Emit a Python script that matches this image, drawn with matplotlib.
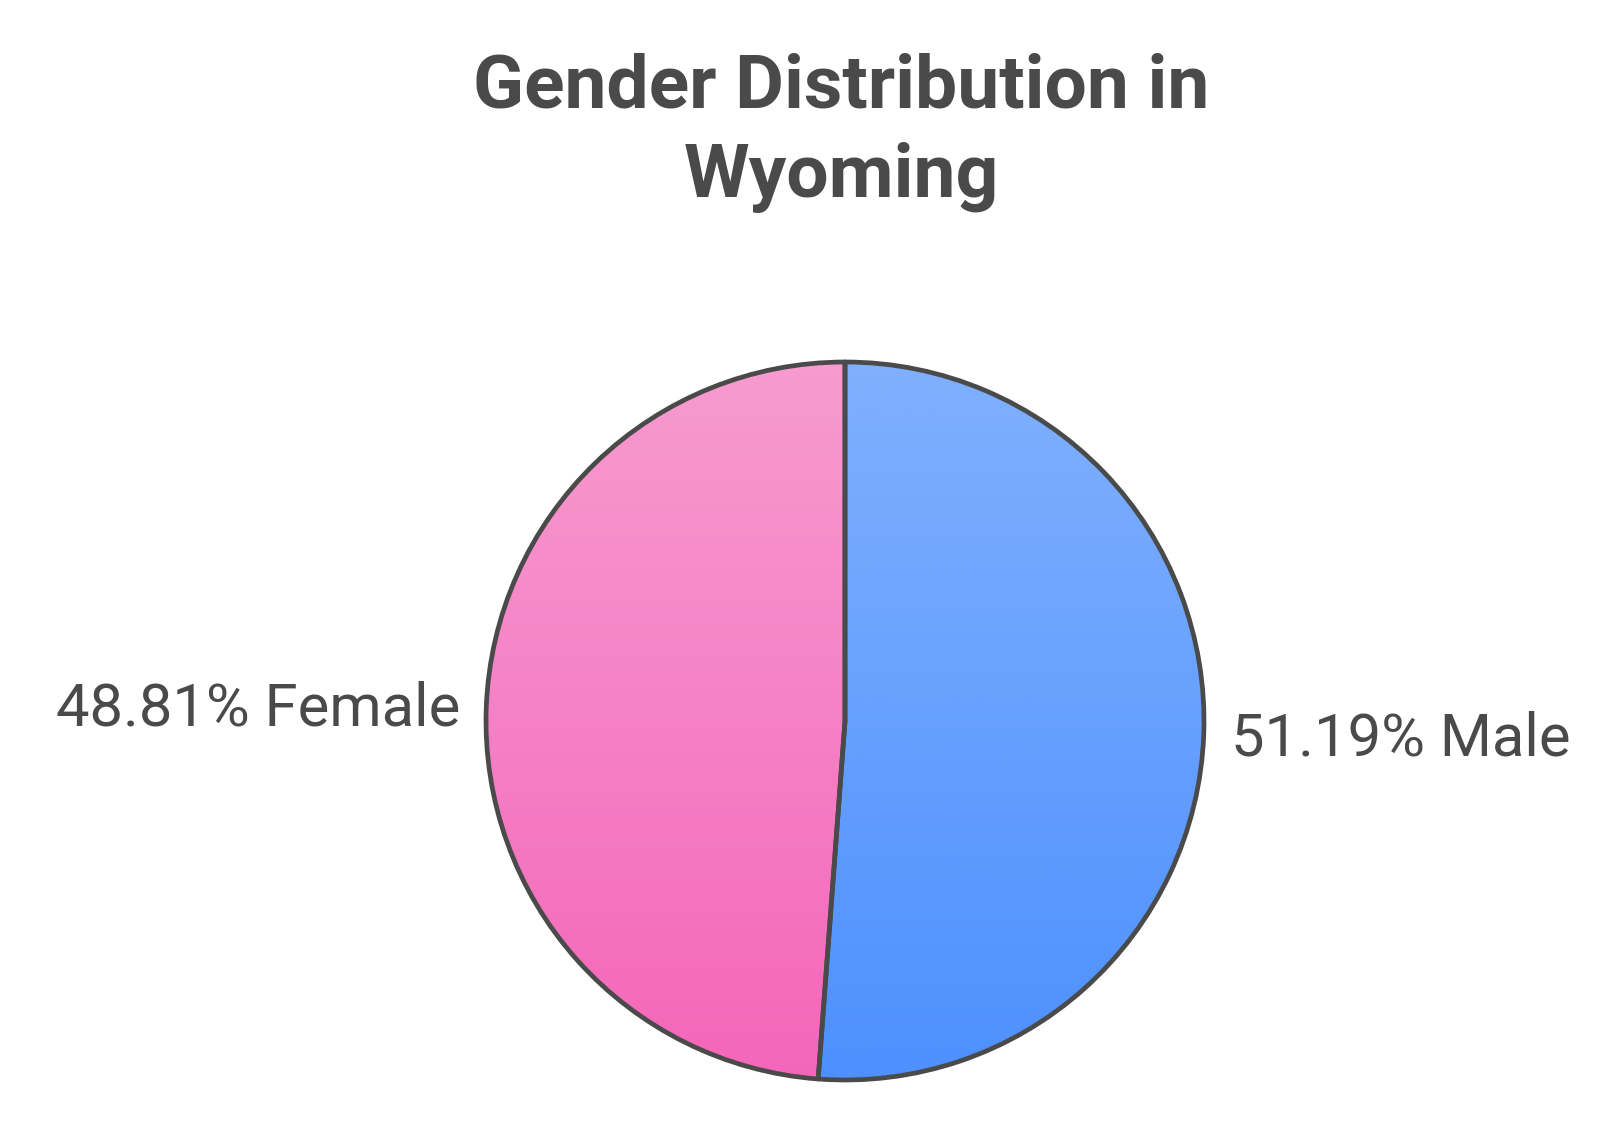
import numpy as np
import matplotlib
matplotlib.use("Agg")
import matplotlib.pyplot as plt
from matplotlib.colors import LinearSegmentedColormap

title_lines = ["Gender Distribution in", "Wyoming"]
categories = ["Male", "Female"]
values = [51.19, 48.81]
top_colors = ["#80B0FE", "#F79BD0"]
bottom_colors = ["#4D90FE", "#F466BA"]
edge_color = "#4A4A4A"
text_color = "#4A4A4A"

W, H = 1620, 1128
fig = plt.figure(figsize=(W / 100, H / 100), dpi=100)
fig.patch.set_facecolor("white")

cx, cy, r = 845, 721, 359
ax = fig.add_axes([(cx - r) / W, (H - cy - r) / H, 2 * r / W, 2 * r / H])
ax.axis("off")

wedges, _ = ax.pie(values, startangle=90, counterclock=False, radius=1,
                   colors=["none", "none"],
                   wedgeprops=dict(edgecolor="none", linewidth=0))

grad = np.linspace(0, 1, 256).reshape(-1, 1)
for w, tc, bc in zip(wedges, top_colors, bottom_colors):
    cmap = LinearSegmentedColormap.from_list("g", [tc, bc])
    im = ax.imshow(grad, extent=[-1, 1, -1, 1], origin="upper", cmap=cmap,
                   aspect="auto", zorder=1)
    im.set_clip_path(w)

ax.set_xlim(-1.0, 1.0)
ax.set_ylim(-1.0, 1.0)

for w in wedges:
    w.set_zorder(2)
    w.set_edgecolor(edge_color)
    w.set_linewidth(3.4)
    w.set_joinstyle("round")
    w.set_clip_on(False)

# labels
label_pos = {"Male": (1.075, -0.095, "left"), "Female": (-1.070, -0.012, "right")}
for cat, v in zip(categories, values):
    x, y, ha = label_pos[cat]
    ax.text(x, y, f"{v:.2f}% {cat}", ha=ha, va="baseline", fontsize=43,
            family="Roboto", color=text_color, clip_on=False)

for line, base in zip(title_lines, [107, 197]):
    fig.text(841 / W, 1 - base / H, line, ha="center", va="baseline",
             fontsize=54, fontweight="bold", family="Roboto", color=text_color)

fig.savefig("out.png", dpi=100, facecolor="white")
